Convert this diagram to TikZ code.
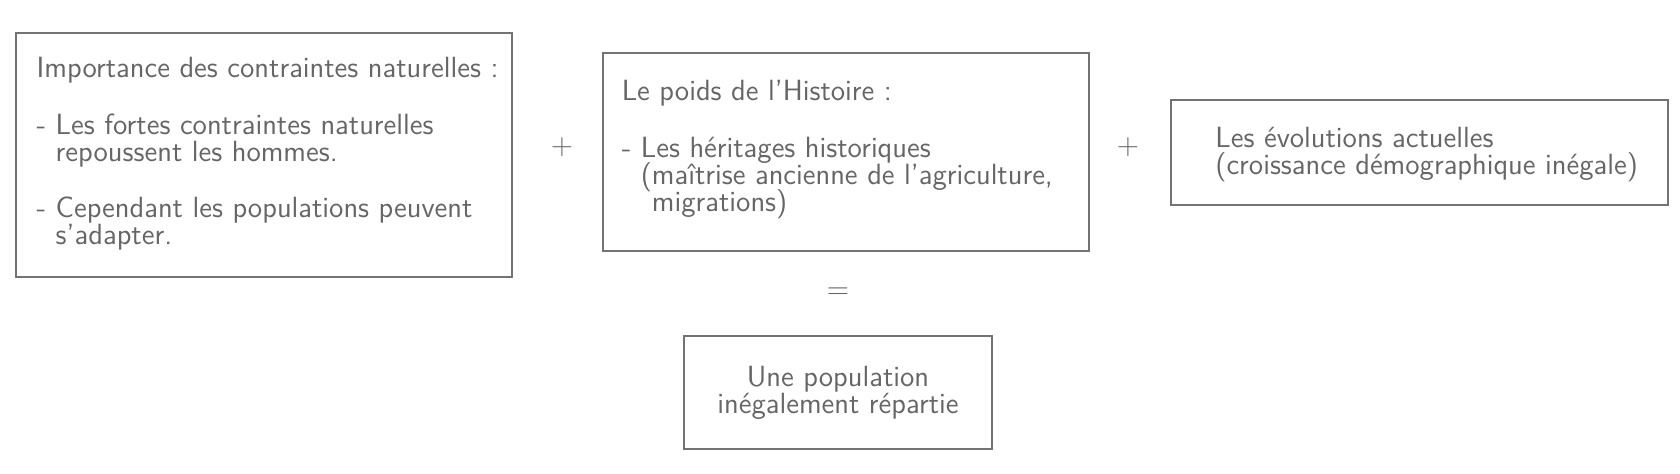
\documentclass[tikz,border=0pt]{standalone}
\usepackage{fontspec}
\usepackage{tikz}
\usetikzlibrary{positioning}

\definecolor{bord}{gray}{0.45}
\definecolor{gristexte}{gray}{0.4}

\newcommand{\policeschema}{\fontsize{13}{12}\selectfont\sffamily\lineskip=0pt\lineskiplimit=-20pt}

\tikzset{
	cadre/.style={draw=bord, line width=0.8pt, inner sep=0pt},
	texte/.style={text=gristexte, font=\policeschema, align=left, inner sep=0pt},
	signe/.style={text=gristexte, font=\policeschema, inner sep=0pt}
}

\begin{document}
\begin{tikzpicture}
	\useasboundingbox (0, 0) rectangle (26.25, 7.406);
	% les trois facteurs
	\node [cadre, minimum width=7.75cm, minimum height=3.8125cm] (Contraintes) at (4.125, 4.984) {};
	\node [texte, below right=0.39cm and 0.33cm of Contraintes.north west] (TexteContraintes)
		{Importance des contraintes naturelles :\\[13pt]
		- Les fortes contraintes naturelles\\
		\phantom{- }repoussent les hommes.\\[13pt]
		- Cependant les populations peuvent\\
		\phantom{- }s'adapter.};
	\node [cadre, minimum width=7.594cm, minimum height=3.094cm] (Histoire) at (13.219, 5.031) {};
	\node [texte, below right=0.44cm and 0.3cm of Histoire.north west] (TexteHistoire)
		{Le poids de l'Histoire :\\[13pt]
		- Les héritages historiques\\
		\phantom{- }(maîtrise ancienne de l'agriculture,\\
		\phantom{- (}migrations)};
	\node [cadre, minimum width=7.766cm, minimum height=1.641cm] (Evolutions) at (22.180, 5.023) {};
	\node [texte, below right=0.44cm and 0.7cm of Evolutions.north west] (TexteEvolutions)
		{Les évolutions actuelles\\
		(croissance démographique inégale)};
	% les signes
	\node [signe] (PlusA) at (8.781, 5.109) {+};
	\node [signe] (PlusB) at (17.625, 5.109) {+};
	\node [signe] (Egal) at (13.094, 2.82) {=};
	% le resultat
	\node [cadre, texte, align=center, minimum width=4.8125cm, minimum height=1.766cm] (Resultat) at (13.094, 1.273)
		{Une population\\inégalement répartie};
\end{tikzpicture}
\end{document}
